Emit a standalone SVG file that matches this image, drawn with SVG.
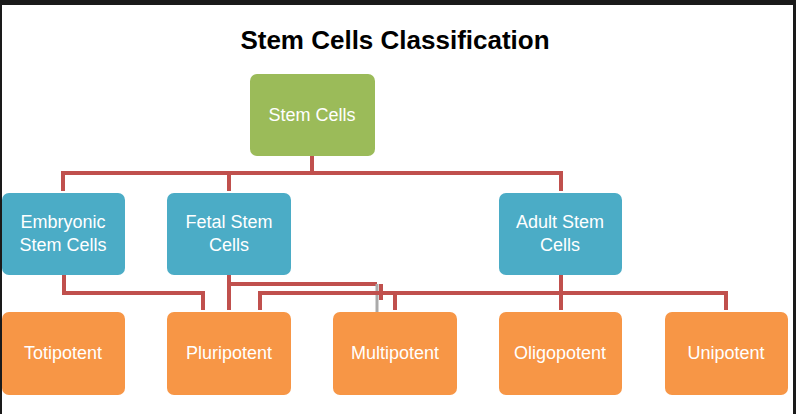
<svg xmlns="http://www.w3.org/2000/svg" width="796" height="414" viewBox="0 0 796 414">
<style>
.n{stroke:none}
.t{font-family:"Liberation Sans",Arial,sans-serif;font-size:18px;fill:#fff;text-anchor:middle}
.c{fill:none;stroke:#C0504D;stroke-width:4}
</style>
<rect x="0" y="0" width="796" height="414" fill="#fff"/>
<rect x="0" y="0" width="796" height="5" fill="#1a1a1a"/>
<rect x="0" y="0" width="2" height="414" fill="#1a1a1a"/>
<rect x="793" y="0" width="3" height="414" fill="#1a1a1a"/>
<text x="395" y="49" style="font-family:'Liberation Sans',Arial,sans-serif;font-size:26px;font-weight:bold;text-anchor:middle;fill:#000">Stem Cells Classification</text>
<g id="connectors">
<path class="c" d="M312 156V173M63 173H561M63 171V191M229 171V191M561 171V191"/>
<path class="c" d="M64 275V293H203V310"/>
<path class="c" d="M229 275V310M229 284H377"/>
<path d="M377 284V312" fill="none" stroke="#aaa" stroke-width="3"/>
<path class="c" d="M381 284V300"/>
<path class="c" d="M561 275V310M260 310V293H726V310M395 293V310"/>
</g>
<g id="stem"><rect x="250" y="74" width="125" height="82" rx="7" fill="#9BBB59"/><text class="t" x="312" y="121">Stem Cells</text></g>
<g id="embryonic"><rect x="2" y="193" width="123" height="82" rx="7" fill="#4BACC6"/><text class="t" x="63" y="228">Embryonic</text><text class="t" x="63" y="251">Stem Cells</text></g>
<g id="fetal"><rect x="167" y="193" width="124" height="82" rx="7" fill="#4BACC6"/><text class="t" x="229" y="228">Fetal Stem</text><text class="t" x="229" y="251">Cells</text></g>
<g id="adult"><rect x="499" y="193" width="123" height="82" rx="7" fill="#4BACC6"/><text class="t" x="560" y="228">Adult Stem</text><text class="t" x="560" y="251">Cells</text></g>
<g id="totipotent"><rect x="2" y="312" width="123" height="83" rx="7" fill="#F79646"/><text class="t" x="63" y="359">Totipotent</text></g>
<g id="pluripotent"><rect x="167" y="312" width="124" height="83" rx="7" fill="#F79646"/><text class="t" x="229" y="359">Pluripotent</text></g>
<g id="multipotent"><rect x="333" y="312" width="124" height="83" rx="7" fill="#F79646"/><text class="t" x="395" y="359">Multipotent</text></g>
<g id="oligopotent"><rect x="499" y="312" width="123" height="83" rx="7" fill="#F79646"/><text class="t" x="560" y="359">Oligopotent</text></g>
<g id="unipotent"><rect x="665" y="312" width="123" height="83" rx="7" fill="#F79646"/><text class="t" x="726" y="359">Unipotent</text></g>
</svg>
